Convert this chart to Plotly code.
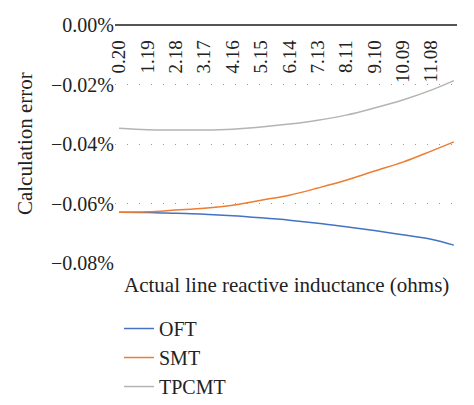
import plotly.graph_objects as go

x_vals = [0.20, 1.19, 2.18, 3.17, 4.16, 5.15, 6.14, 7.13, 8.11, 9.10, 10.09, 11.08, 11.87]
tick_labels = ["0.20", "1.19", "2.18", "3.17", "4.16", "5.15", "6.14", "7.13", "8.11", "9.10", "10.09", "11.08"]
oft = [-0.0629, -0.0630, -0.0633, -0.0636, -0.0641, -0.0648, -0.0656, -0.0666, -0.0678, -0.0691, -0.0705, -0.0720, -0.0740]
smt = [-0.0629, -0.0628, -0.0622, -0.0616, -0.0606, -0.0589, -0.0572, -0.0548, -0.0522, -0.0491, -0.0461, -0.0424, -0.0393]
tpcmt = [-0.0347, -0.0352, -0.0353, -0.0353, -0.0350, -0.0343, -0.0333, -0.0320, -0.0303, -0.0279, -0.0252, -0.0219, -0.0187]
y_ticks = [0, -0.02, -0.04, -0.06, -0.08]
y_tick_labels = ["0.00%", "\u22120.02%", "\u22120.04%", "\u22120.06%", "\u22120.08%"]

FONT = "Liberation Serif"
TXT = "#222222"
fig = go.Figure()
for name, ys, col in [("OFT", oft, "#4472C4"), ("SMT", smt, "#ED7D31"), ("TPCMT", tpcmt, "#B4B4B4")]:
    fig.add_trace(go.Scatter(x=x_vals, y=ys, name=name, mode="lines",
                             line=dict(color=col, width=1.5, shape="spline")))

fig.update_layout(
    width=474, height=405,
    margin=dict(l=115, r=17, t=25, b=142, autoexpand=False),
    paper_bgcolor="white", plot_bgcolor="white",
    font=dict(family=FONT, size=20, color=TXT),
    showlegend=True,
    legend=dict(xref="container", yref="container", x=0.251, y=0.237,
                xanchor="left", yanchor="top",
                font=dict(family=FONT, size=20, color=TXT),
                tracegroupgap=0, itemwidth=30),
    xaxis=dict(range=[0.06, 11.98], side="bottom", anchor="free", position=1,
               showline=True, linecolor="#555555", linewidth=1.5,
               tickvals=x_vals[:12], ticktext=tick_labels, tickangle=-90,
               ticks="", ticklabelstandoff=7, showgrid=False, zeroline=False,
               tickfont=dict(family=FONT, size=19, color=TXT),
               title=None, automargin=False),
    yaxis=dict(range=[-0.08, 0], tickvals=y_ticks, ticktext=y_tick_labels,
               showgrid=True, gridcolor="#999999", gridwidth=1, griddash="1px,11px",
               zeroline=False, showline=False, ticks="", automargin=False,
               tickfont=dict(family=FONT, size=20, color=TXT), title=None),
    annotations=[
        dict(text="Actual line reactive inductance (ohms)", xref="paper", yref="paper",
             x=0.5, y=-0.035, xanchor="center", yanchor="top", showarrow=False,
             font=dict(family=FONT, size=21, color=TXT)),
        dict(text="Calculation error", xref="paper", yref="paper", textangle=-90,
             x=-0.263, y=0.5, xanchor="center", yanchor="middle", showarrow=False,
             font=dict(family=FONT, size=21, color=TXT)),
    ],
)
fig.write_html("out.html")
